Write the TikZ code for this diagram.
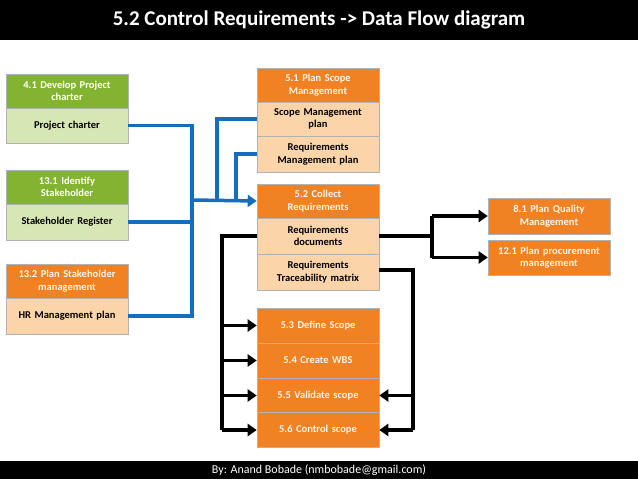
\documentclass[tikz,border=0pt]{standalone}
\usepackage{fontspec}
\setmainfont{Carlito}
\usetikzlibrary{arrows.meta}
\definecolor{org}{RGB}{240,130,35}
\definecolor{lorg}{RGB}{251,212,170}
\definecolor{grn}{RGB}{130,180,50}
\definecolor{lgrn}{RGB}{214,230,180}
\definecolor{blu}{RGB}{20,110,190}
\tikzset{
  box/.style={draw=white!70!black,line width=0.6pt,minimum width=122pt,text width=116pt,align=center,
    inner sep=1pt,font=\fontsize{10.5}{12.5}\selectfont\bfseries},
  ot/.style={box,fill=org,text=white!92!orange},
  ol/.style={box,fill=lorg,text=black},
  gt/.style={box,fill=grn,text=white},
  gl/.style={box,fill=lgrn,text=black},
  bl/.style={blu,line width=3.5pt},
  bk/.style={black,line width=3.5pt},
  arr/.style={-{Triangle[length=9pt,width=12pt]}}
}
\begin{document}
\begin{tikzpicture}[x=1pt,y=-1pt]
\useasboundingbox (0,0) rectangle (638,479);
\fill[white] (0,0) rectangle (638,479);
\fill[black] (0,0) rectangle (638,40);
\node[text=white,font=\fontsize{21}{24}\selectfont\bfseries] (title) at (319,20) {5.2 Control Requirements -> Data Flow diagram};
\fill[black] (0,461) rectangle (638,479);
\node[text=white,font=\fontsize{12}{14}\selectfont] (by) at (319,470) {By: Anand Bobade (nmbobade@gmail.com)};
% left inputs
\node[gt,minimum height=34pt] (a1) at (67,91) {4.1 Develop Project\\charter};
\node[gl,minimum height=35pt] (a2) at (67,125.5) {Project charter};
\node[gt,minimum height=34pt] (b1) at (67,187) {13.1 Identify\\Stakeholder};
\node[gl,minimum height=36pt] (b2) at (67,222) {Stakeholder Register};
\node[ot,minimum height=34pt] (c1) at (67,281) {13.2 Plan Stakeholder\\management};
\node[ol,minimum height=36pt] (c2) at (67,316) {HR Management plan};
% centre column
\node[ot,minimum height=34pt] (p1) at (318,85) {5.1 Plan Scope\\Management};
\node[ol,minimum height=34pt] (p2) at (318,119) {Scope Management\\plan};
\node[ol,minimum height=36pt] (p3) at (318,154) {Requirements\\Management plan};
\node[ot,minimum height=34pt] (q1) at (318,201) {5.2 Collect\\Requirements};
\node[ol,minimum height=36pt] (q2) at (318,236) {Requirements\\documents};
\node[ol,minimum height=36pt] (q3) at (318,272) {Requirements\\Traceability matrix};
\node[ot,minimum height=35pt] (s3) at (318,325.5) {5.3 Define Scope};
\node[ot,minimum height=35pt] (s4) at (318,360.5) {5.4 Create WBS};
\node[ot,minimum height=35pt] (s5) at (318,395.5) {5.5 Validate scope};
\node[ot,minimum height=35pt] (s6) at (318,430) {5.6 Control scope};
% right outputs
\node[ot,minimum height=36pt] (r1) at (549,216) {8.1 Plan Quality\\Management};
\node[ot,minimum height=35pt] (r2) at (549,257.5) {12.1 Plan procurement\\management};
% blue flows
\coordinate (j) at (192,200);
\draw[bl] (a2.east) -| (j);
\draw[bl] (c2.east) -| (j);
\draw[bl] (b2.east) -- (b2.east -| j);
\draw[bl,arr] (j) -- (q1.west);
\draw[bl] (p2.west) -| (217,200);
\draw[bl] (p3.west) -| (236,200);
% black flows
\coordinate (k) at (222,236);
\draw[bk] (q2.west) -- (k) -- (k |- s6.west);
\foreach \s in {s3,s4,s5,s6} \draw[bk,arr] (k |- \s.west) -- (\s.west);
\coordinate (m) at (432,236);
\draw[bk] (q2.east) -- (m);
\draw[bk] (m |- r1.west) -- (m |- r2.west);
\draw[bk,arr] (m |- r1.west) -- (r1.west);
\draw[bk,arr] (m |- r2.west) -- (r2.west);
\coordinate (t) at (413,270);
\draw[bk] (q3.east |- t) -- (t) -- (t |- s6.east);
\draw[bk,arr] (t |- s5.east) -- (s5.east);
\draw[bk,arr] (t |- s6.east) -- (s6.east);
\end{tikzpicture}
\end{document}
